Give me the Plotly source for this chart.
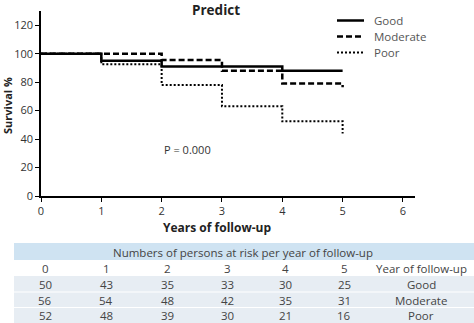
import plotly.graph_objects as go

# ---- data ----
good_x = [0, 1, 2, 3, 4, 5]
good_y = [100, 95, 91, 91, 88, 88]
mod_x = [0, 1, 2, 3, 4, 5, 5]
mod_y = [100, 100, 95.5, 88, 79, 79, 76.5]
poor_x = [0, 1, 2, 3, 4, 5, 5]
poor_y = [100, 92.5, 78, 63, 52.5, 52.5, 44]

years = [0, 1, 2, 3, 4, 5]
risk_good = [50, 43, 35, 33, 30, 25]
risk_mod = [56, 54, 48, 42, 35, 31]
risk_poor = [52, 48, 39, 30, 21, 16]
row_labels = ["Year of follow-up", "Good", "Moderate", "Poor"]

W, H = 474, 323
L, R, T, B = 41, 415, 11, 196  # plot area pixel box
FONT = "Open Sans"
TXT = "#333333"

def px(xp):
    return (xp - L) / (R - L)

def py(yp):
    return (B - yp) / (B - T)

fig = go.Figure()
fig.add_trace(go.Scatter(x=poor_x, y=poor_y, mode="lines", line_shape="hv",
                         line=dict(color="black", width=2, dash="2px,2px"), name="Poor"))
fig.add_trace(go.Scatter(x=mod_x, y=mod_y, mode="lines", line_shape="hv",
                         line=dict(color="black", width=2.5, dash="6px,3px"), name="Moderate"))
fig.add_trace(go.Scatter(x=good_x, y=good_y, mode="lines", line_shape="hv",
                         line=dict(color="black", width=2.5), name="Good"))

shapes = []
annotations = []

# legend (manual)
leg = [("Good", None, 2.5, 20.5), ("Moderate", "6px,3px", 2.5, 36.5), ("Poor", "2px,2px", 2, 52.5)]
for name, dash, w, yp in leg:
    ln = dict(color="black", width=w)
    if dash:
        ln["dash"] = dash
    shapes.append(dict(type="line", xref="paper", yref="paper", x0=px(337), x1=px(364),
                       y0=py(yp), y1=py(yp), line=ln))
    annotations.append(dict(xref="paper", yref="paper", x=px(372), y=py(yp), text=name,
                            showarrow=False, xanchor="left", yanchor="middle",
                            font=dict(family=FONT, size=11.5, color="#555555")))

# title
annotations.append(dict(xref="paper", yref="paper", x=px(216), y=py(9.5), text="<b>Predict</b>",
                        showarrow=False, xanchor="center", yanchor="middle",
                        font=dict(family=FONT, size=13.5, color="#222222")))
# axis titles
annotations.append(dict(xref="paper", yref="paper", x=px(217), y=py(227),
                        text="<b>Years of follow-up</b>", showarrow=False,
                        xanchor="center", yanchor="middle",
                        font=dict(family=FONT, size=12, color="#222222")))
annotations.append(dict(xref="paper", yref="paper", x=px(7), y=py(106),
                        text="<b>Survival %</b>", textangle=-90, showarrow=False,
                        xanchor="center", yanchor="middle",
                        font=dict(family=FONT, size=11, color="#222222")))
# p-value
annotations.append(dict(xref="x", yref="y", x=2.0, y=33, text="P = 0.000", showarrow=False,
                        xanchor="left", yanchor="middle",
                        font=dict(family=FONT, size=11, color="#333333")))

# table bands
HEAD_BG = "#cfe3f2"
ROW_BG = "#e7edf3"
shapes.append(dict(type="rect", xref="paper", yref="paper", x0=px(14), x1=px(474),
                   y0=py(243), y1=py(260), fillcolor=HEAD_BG, line=dict(width=0), layer="below"))
for y0, y1 in [(276, 291.5), (292.5, 307), (308, 323)]:
    shapes.append(dict(type="rect", xref="paper", yref="paper", x0=px(14), x1=px(474),
                       y0=py(y0), y1=py(y1), fillcolor=ROW_BG, line=dict(width=0), layer="below"))

annotations.append(dict(xref="paper", yref="paper", x=px(243), y=py(252),
                        text="Numbers of persons at risk per year of follow-up",
                        showarrow=False, xanchor="center", yanchor="middle",
                        font=dict(family=FONT, size=11.5, color="#444444")))

col_px = [45, 106, 167, 227, 285, 344]
row_y = [268, 284, 300, 315.5]
rows = [years, risk_good, risk_mod, risk_poor]
TF = 11.5
for r, vals in enumerate(rows):
    for c, v in enumerate(vals):
        annotations.append(dict(xref="paper", yref="paper", x=px(col_px[c]), y=py(row_y[r]),
                                text=str(v), showarrow=False, xanchor="center", yanchor="middle",
                                font=dict(family=FONT, size=TF, color="#444444")))
    annotations.append(dict(xref="paper", yref="paper", x=px(421), y=py(row_y[r]),
                            text=row_labels[r], showarrow=False, xanchor="center", yanchor="middle",
                            font=dict(family=FONT, size=TF, color="#444444")))

fig.update_layout(
    width=W, height=H,
    margin=dict(l=L, r=W - R, t=T, b=H - B, pad=0),
    paper_bgcolor="white", plot_bgcolor="white",
    showlegend=False,
    shapes=shapes, annotations=annotations,
    font=dict(family=FONT, size=11, color=TXT),
)
fig.update_xaxes(range=[0, 6.2], tickvals=[0, 1, 2, 3, 4, 5, 6], showgrid=False, zeroline=False,
                 showline=True, linecolor="black", linewidth=1.5, ticks="outside", ticklen=4,
                 tickcolor="black", tickwidth=1, tickfont=dict(family=FONT, size=11, color=TXT))
fig.update_yaxes(range=[0, 130], tickvals=[0, 20, 40, 60, 80, 100, 120], showgrid=False,
                 zeroline=False, showline=True, linecolor="black", linewidth=1.5,
                 ticks="outside", ticklen=4, tickcolor="black", tickwidth=1,
                 tickfont=dict(family=FONT, size=11, color=TXT))

fig.write_html("out.html")
